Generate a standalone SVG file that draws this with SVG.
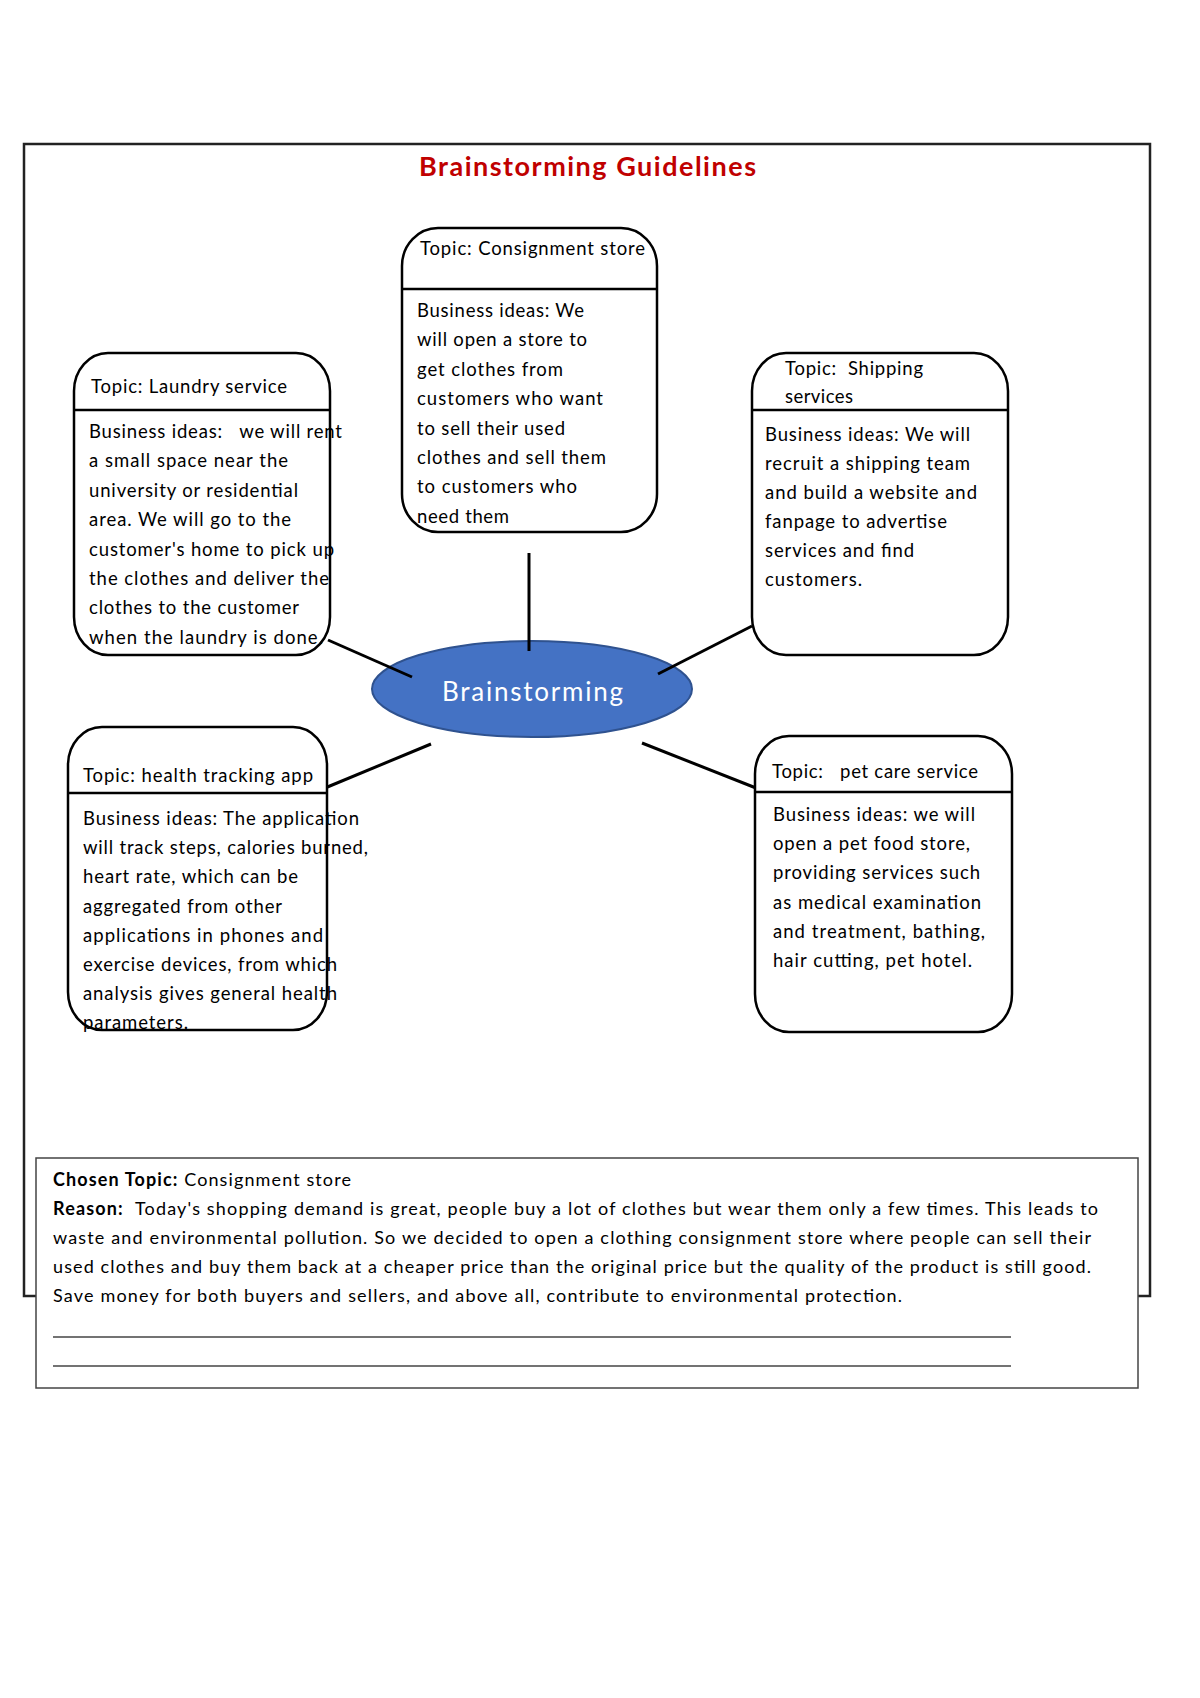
<svg xmlns="http://www.w3.org/2000/svg" width="1200" height="1698" viewBox="0 0 1200 1698">
<style>
.t{font-family:Lato,"Liberation Sans",sans-serif;font-size:18.5px;fill:#000}
.b{font-family:Lato,"Liberation Sans",sans-serif;font-size:18px;fill:#000}
.box{fill:#fff;stroke:#000;stroke-width:2.5}
.div{stroke:#000;stroke-width:2.5}
.con{stroke:#000;stroke-width:3;fill:none}
</style>
<rect x="0" y="0" width="1200" height="1698" fill="#fff"/>
<rect id="frame" x="24" y="144" width="1126" height="1152" fill="none" stroke="#222" stroke-width="2.5"/>
<text id="title" x="419" y="176" textLength="337" style="font-family:Lato,'Liberation Sans',sans-serif;font-size:27px;font-weight:bold;fill:#C00000">Brainstorming Guidelines</text>

<g id="center">
<ellipse cx="532" cy="689" rx="160" ry="48" fill="#4472C4" stroke="#2F528F" stroke-width="2"/>
<text x="442" y="701" textLength="181" style="font-family:Lato,'Liberation Sans',sans-serif;font-size:26px;fill:#fff">Brainstorming</text>
</g>

<g id="connectors">
<line class="con" x1="529" y1="553" x2="529" y2="651"/>
<line class="con" x1="328" y1="640" x2="412" y2="677"/>
<line class="con" x1="752" y1="626" x2="658" y2="674"/>
<line class="con" x1="325" y1="788" x2="431" y2="744"/>
<line class="con" x1="756" y1="788" x2="642" y2="743"/>
</g>

<g id="consignment">
<rect class="box" x="402" y="228" width="255" height="304" rx="36" ry="38"/>
<line class="div" x1="402" y1="289" x2="657" y2="289"/>
<text class="t" x="420" y="255" textLength="225">Topic: Consignment store</text>
<text class="t" x="417" y="317" textLength="167">Business ideas: We</text>
<text class="t" x="417" y="346.4" textLength="170">will open a store to</text>
<text class="t" x="417" y="375.8" textLength="146">get clothes from</text>
<text class="t" x="417" y="405.2" textLength="186">customers who want</text>
<text class="t" x="417" y="434.6" textLength="148">to sell their used</text>
<text class="t" x="417" y="464" textLength="189">clothes and sell them</text>
<text class="t" x="417" y="493.4" textLength="160">to customers who</text>
<text class="t" x="417" y="522.8" textLength="92">need them</text>
</g>

<g id="laundry">
<rect class="box" x="74" y="353" width="256" height="302" rx="34" ry="38"/>
<line class="div" x1="74" y1="410" x2="330" y2="410"/>
<text class="t" x="91" y="393" textLength="196">Topic: Laundry service</text>
<text class="t" x="89" y="438" textLength="253" xml:space="preserve">Business ideas:   we will rent</text>
<text class="t" x="89" y="467.4" textLength="199">a small space near the</text>
<text class="t" x="89" y="496.8" textLength="209">university or residential</text>
<text class="t" x="89" y="526.2" textLength="202">area. We will go to the</text>
<text class="t" x="89" y="555.6" textLength="245">customer's home to pick up</text>
<text class="t" x="89" y="585" textLength="240">the clothes and deliver the</text>
<text class="t" x="89" y="614.4" textLength="210">clothes to the customer</text>
<text class="t" x="89" y="643.8" textLength="234">when the laundry is done.</text>
</g>

<g id="shipping">
<rect class="box" x="752" y="353" width="256" height="302" rx="34" ry="38"/>
<line class="div" x1="752" y1="410" x2="1008" y2="410"/>
<text class="t" x="785" y="375" textLength="138" xml:space="preserve">Topic:  Shipping</text>
<text class="t" x="785" y="403" textLength="68">services</text>
<text class="t" x="765" y="441" textLength="205">Business ideas: We will</text>
<text class="t" x="765" y="470" textLength="205">recruit a shipping team</text>
<text class="t" x="765" y="499" textLength="212">and build a website and</text>
<text class="t" x="765" y="527.5" textLength="182">fanpage to advertise</text>
<text class="t" x="765" y="556.5" textLength="149">services and find</text>
<text class="t" x="765" y="585.5" textLength="97">customers.</text>
</g>

<g id="health">
<rect class="box" x="68" y="727" width="259" height="303" rx="34" ry="38"/>
<line class="div" x1="68" y1="793" x2="327" y2="793"/>
<text class="t" x="83" y="782" textLength="230">Topic: health tracking app</text>
<text class="t" x="83" y="825" textLength="276">Business ideas: The application</text>
<text class="t" x="83" y="854.2" textLength="285">will track steps, calories burned,</text>
<text class="t" x="83" y="883.4" textLength="215">heart rate, which can be</text>
<text class="t" x="83" y="912.6" textLength="199">aggregated from other</text>
<text class="t" x="83" y="941.8" textLength="240">applications in phones and</text>
<text class="t" x="83" y="971" textLength="254">exercise devices, from which</text>
<text class="t" x="83" y="1000.2" textLength="254">analysis gives general health</text>
<text class="t" x="83" y="1029.4" textLength="105">parameters.</text>
</g>

<g id="petcare">
<rect class="box" x="755" y="736" width="257" height="296" rx="34" ry="38"/>
<line class="div" x1="755" y1="792" x2="1012" y2="792"/>
<text class="t" x="772" y="778" textLength="206" xml:space="preserve">Topic:   pet care service</text>
<text class="t" x="773" y="821" textLength="202">Business ideas: we will</text>
<text class="t" x="773" y="850.2" textLength="197">open a pet food store,</text>
<text class="t" x="773" y="879.4" textLength="207">providing services such</text>
<text class="t" x="773" y="908.6" textLength="208">as medical examination</text>
<text class="t" x="773" y="937.8" textLength="212">and treatment, bathing,</text>
<text class="t" x="773" y="967" textLength="199">hair cutting, pet hotel.</text>
</g>

<g id="chosen">
<rect x="36" y="1158" width="1102" height="230" fill="#fff" stroke="#444" stroke-width="1.5"/>
<text class="b" x="53" y="1186" textLength="298"><tspan font-weight="bold">Chosen Topic:</tspan> Consignment store</text>
<text class="b" x="53" y="1215" textLength="1045" xml:space="preserve"><tspan font-weight="bold">Reason:</tspan>  Today's shopping demand is great, people buy a lot of clothes but wear them only a few times. This leads to</text>
<text class="b" x="53" y="1244" textLength="1038">waste and environmental pollution. So we decided to open a clothing consignment store where people can sell their</text>
<text class="b" x="53" y="1273" textLength="1038">used clothes and buy them back at a cheaper price than the original price but the quality of the product is still good.</text>
<text class="b" x="53" y="1302" textLength="849">Save money for both buyers and sellers, and above all, contribute to environmental protection.</text>
<line x1="53" y1="1337" x2="1011" y2="1337" stroke="#444" stroke-width="1.5"/>
<line x1="53" y1="1366" x2="1011" y2="1366" stroke="#444" stroke-width="1.5"/>
</g>
</svg>
